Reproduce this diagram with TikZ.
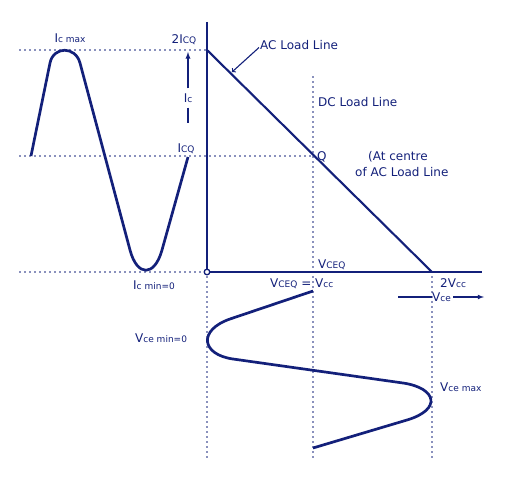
\documentclass[tikz,border=0pt]{standalone}
\usepackage{fontspec}
\setmainfont{DejaVu Sans}
\usetikzlibrary{arrows,positioning,calc}
\definecolor{load-navy}{HTML}{13207A}
\newcommand{\lo}[1]{{\fontsize{9}{9}\selectfont #1}}

\begin{document}
\begin{tikzpicture}[x=1pt, y=-1pt, line join=round,
    wave/.style={draw=load-navy, line width=2.7pt},
    axis/.style={draw=load-navy, line width=2.5pt},
    guide/.style={draw=load-navy, line width=1.9pt, line cap=round, dash pattern=on 0pt off 5pt},
    lbl/.style={text=load-navy, font=\fontsize{12}{12}\selectfont, inner sep=0pt, anchor=base}]

    \useasboundingbox (0,0) rectangle (505,487);

    % points of the load lines
    \coordinate (O) at (207,272);
    \coordinate (top) at (207,22);
    \coordinate (xend) at (482,272);
    \coordinate (A) at (207,50);
    \coordinate (B) at (432,272);
    \coordinate (Q) at (313,156);

    % dotted guides
    \draw[guide] (20,50) -- (A);
    \draw[guide] (20,156) -- (Q);
    \draw[guide] (20,272) -- (O);
    \draw[guide] (313,77) -- (313,460);
    \draw[guide] (O) -- (207,458);
    \draw[guide] (B) -- (432,459);

    % axes and AC load line
    \draw[axis] (top) -- (O) -- (xend);
    \draw[load-navy, line width=2.1pt] (A) -- (B);
    \draw[load-navy, line width=1.3pt, fill=white] (O) circle (2.8);

    % collector current wave
    \draw[wave] (31,156) -- (50,63) .. controls (53.5,46) and (75.5,46) .. (80,63)
        -- (130,250) .. controls (137.2,277) and (154.5,277) .. (162,250) -- (188,157);

    % collector-emitter voltage wave
    \draw[wave] (313,291) -- (230,319) .. controls (198,330) and (201,354.5) .. (233,359)
        -- (403,383) .. controls (437,388) and (442,409.6) .. (407,420) -- (313,448);

    % labels
    \node[lbl] (icmax) at (70,43) {I\lo{c max}};
    \node[lbl] (twoicq) at (184,44) {2I\lo{CQ}};
    \node[lbl] (icq) at (186,152) {I\lo{CQ}};
    \node[lbl, anchor=center] (ic) at (188,98) {I\lo{c}};
    \coordinate (icup) at (188,52);
    \coordinate (icdown) at (188,123);
    \draw[load-navy, line width=1.3pt, -latex] (ic.north) ++(0,-5) -- (icup);
    \draw[load-navy, line width=1.3pt] (ic.south) ++(0,5) -- (icdown);

    \node[lbl, anchor=base west] (acll) at (260,49) {AC Load Line};
    \coordinate (acpt) at (232,72);
    \draw[load-navy, line width=1.1pt, ->] (acll.west) ++(-1,3) -- (acpt);

    \node[lbl, anchor=base west] (dcll) at (318,106) {DC Load Line};
    \node[lbl, anchor=base west] (qlbl) at (317,160) {Q};
    \node[lbl, anchor=base west] (centre1) at (368,160) {(At centre};
    \node[lbl, anchor=base west] (centre2) at (355,176) {of AC Load Line};

    \node[lbl, anchor=base west] (vceq) at (318,268) {V\lo{CEQ}};
    \node[lbl, anchor=base west] (vceqvcc) at (270,287) {V\lo{CEQ} = V\lo{cc}};
    \node[lbl, anchor=base west] (twovcc) at (440,287) {2V\lo{cc}};
    \node[lbl, anchor=base west] (vce) at (432,301) {V\lo{ce}};
    \coordinate (vceleft) at (398,297);
    \coordinate (vceright) at (484,297);
    \draw[load-navy, line width=1.1pt] (vceleft) -- (vce.west |- vceleft);
    \draw[load-navy, line width=1.1pt, -latex] (vce.east |- vceright) ++(2,0) -- (vceright);

    \node[lbl, anchor=base west] (icmin) at (133,289) {I\lo{c min=0}};
    \node[lbl, anchor=base west] (vcemin) at (135,342) {V\lo{ce min=0}};
    \node[lbl, anchor=base west] (vcemax) at (440,391) {V\lo{ce max}};

\end{tikzpicture}
\end{document}
